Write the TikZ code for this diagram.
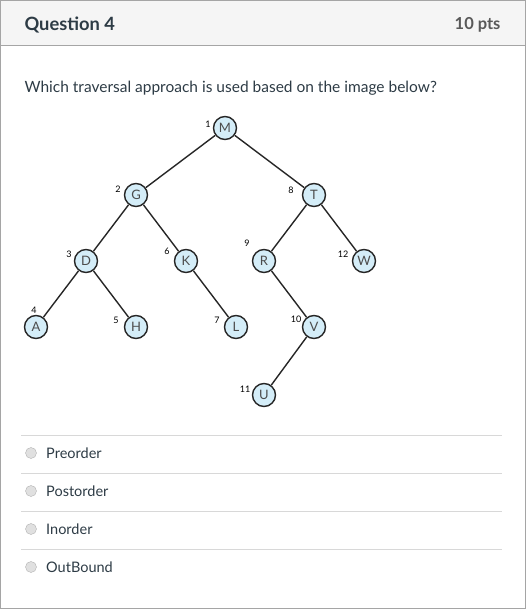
\documentclass[tikz,border=0pt]{standalone}
\usepackage{fontspec}
\setmainfont{Lato}
\usepackage{tikz}
\definecolor{txt}{HTML}{2D3B45}
\definecolor{hdr}{HTML}{F5F5F5}
\definecolor{frm}{HTML}{A5A5A5}
\definecolor{sep}{HTML}{D8D8D8}
\definecolor{nodefill}{HTML}{D4EDF8}

\begin{document}
\begin{tikzpicture}[x=1pt,y=-1pt,
    vertex/.style={draw=black!85, circle, fill=nodefill, line width=1.4pt, minimum size=23pt, inner sep=0pt, font=\fontsize{13}{13}\selectfont\color{black!70}},
    num/.style={font=\fontsize{9}{9}\selectfont, inner sep=0pt},
    radio/.style={draw=black!30, circle, fill=black!12, minimum size=11pt, inner sep=0pt},
    option/.style={anchor=west, inner sep=0pt, font=\fontsize{14.5}{14.5}\selectfont\color{txt}}]
 \useasboundingbox (0,0) rectangle (526,609);
 % frame and header
 \fill[hdr] (0,0) rectangle (526,45);
 \draw[frm] (0,45) -- (526,45);
 \draw[frm, line width=1.2pt] (0.6,0.6) rectangle (525.4,608.4);
 \node[anchor=west, font=\fontsize{18.3}{18.3}\selectfont\bfseries\color{txt}] (title) at (21,24.5) {Question 4};
 \node[anchor=east, font=\fontsize{16.5}{16.5}\selectfont\bfseries\color{black!65}] (pts) at (504,24.5) {10 pts};
 \node[anchor=west, font=\fontsize{15.5}{15.5}\selectfont\color{txt}] (question) at (21,88) {Which traversal approach is used based on the image below?};

 % tree
 \begin{scope}[every node/.style={vertex}]
   \node (M) at (225,128) {M};
   \node (G) at (136,195) {G};
   \node (T) at (314,195) {T};
   \node (D) at (86,261) {D};
   \node (K) at (186,261) {K};
   \node (R) at (264,261) {R};
   \node (W) at (364,261) {W};
   \node (A) at (36,327) {A};
   \node (H) at (136,327) {H};
   \node (L) at (236,327) {L};
   \node (V) at (314,327) {V};
   \node (U) at (264,395) {U};
 \end{scope}
 \begin{scope}[black!85, line width=1.4pt]
   \draw (M) -- (G) (M) -- (T);
   \draw (G) -- (D) (G) -- (K);
   \draw (D) -- (A) (D) -- (H);
   \draw (K) -- (L);
   \draw (T) -- (R) (T) -- (W);
   \draw (R) -- (V) (V) -- (U);
 \end{scope}

 % visiting order
 \node[num] (n1) at (208,124) {1};
 \node[num] (n2) at (118,189) {2};
 \node[num] (n3) at (69,254) {3};
 \node[num] (n4) at (34,310) {4};
 \node[num] (n5) at (116,320) {5};
 \node[num] (n6) at (167,251) {6};
 \node[num] (n7) at (217,320) {7};
 \node[num] (n8) at (291,190) {8};
 \node[num] (n9) at (247,243) {9};
 \node[num] (n10) at (296,319) {10};
 \node[num] (n11) at (245,389) {11};
 \node[num] (n12) at (343,254) {12};

 % answers
 \foreach \y in {435,473,511,549}
   \draw[sep] (21,\y) -- (502,\y);
 \node[radio] (r1) at (31,453) {};
 \node[radio] (r2) at (31,491) {};
 \node[radio] (r3) at (31,529) {};
 \node[radio] (r4) at (31,567) {};
 \node[option] (o1) at (46,453) {Preorder};
 \node[option] (o2) at (46,491) {Postorder};
 \node[option] (o3) at (46,529) {Inorder};
 \node[option] (o4) at (46,567) {OutBound};
\end{tikzpicture}
\end{document}
